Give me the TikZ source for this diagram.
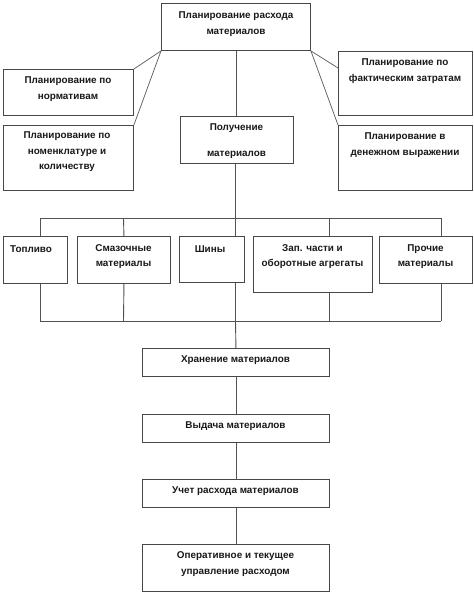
\documentclass[tikz,border=0pt]{standalone}
\usepackage{fontspec}
\setmainfont{Liberation Sans}
\begin{document}
\begin{tikzpicture}[x=1pt,y=-1pt,
  box/.style={draw=black!72, line width=0.9pt, rectangle, inner sep=0pt, anchor=north west},
  txt/.style={align=center, inner sep=0pt, font=\fontsize{9.9}{15.5}\selectfont\bfseries, text=black!90},
  ln/.style={draw=black!68, line width=0.9pt},
  diag/.style={draw=black!62, line width=0.75pt}]
\useasboundingbox[fill=white] (0,0) rectangle (474,595);
% top
\node[box, minimum width=149pt, minimum height=47pt] (top) at (161,3) {};
\node[txt] (topT) at (236,24) {Планирование расхода\\материалов};
% left
\node[box, minimum width=130pt, minimum height=46pt] (l1) at (3,69) {};
\node[txt] (l1T) at (68,89) {Планирование по\\нормативам};
\node[box, minimum width=130pt, minimum height=65pt] (l2) at (3,125) {};
\node[txt] (l2T) at (67,152) {Планирование по\\номенклатуре и\\количеству};
% right
\node[box, minimum width=134pt, minimum height=64pt] (r1) at (338,51) {};
\node[txt] (r1T) at (405,71) {Планирование по\\фактическим затратам};
\node[box, minimum width=134pt, minimum height=65pt] (r2) at (338,125) {};
\node[txt] (r2T) at (405,145) {Планирование в\\денежном выражении};
% center
\node[box, minimum width=113pt, minimum height=47pt] (recv) at (180,116) {};
\node[txt, font=\fontsize{9.9}{26}\selectfont\bfseries] (recvT) at (236.5,141) {Получение\\материалов};
% row
\node[box, minimum width=64pt, minimum height=47pt] (fuel) at (3,236) {};
\node[txt] (fuelT) at (31,249) {Топливо};
\node[box, minimum width=93pt, minimum height=47pt] (lub) at (77,236) {};
\node[txt] (lubT) at (123.5,256.5) {Смазочные\\материалы};
\node[box, minimum width=65pt, minimum height=46pt] (tyre) at (179,236) {};
\node[txt] (tyreT) at (210,249) {Шины};
\node[box, minimum width=119pt, minimum height=56pt] (spare) at (253,236) {};
\node[txt] (spareT) at (312.5,256.5) {Зап. части и\\оборотные агрегаты};
\node[box, minimum width=93pt, minimum height=47pt] (other) at (379,236) {};
\node[txt] (otherT) at (425.5,256.5) {Прочие\\материалы};
% bottom chain
\node[box, minimum width=187pt, minimum height=28pt] (store) at (142,348) {};
\node[txt] (storeT) at (235.5,360) {Хранение материалов};
\node[box, minimum width=187pt, minimum height=28pt] (issue) at (142,414) {};
\node[txt] (issueT) at (235.5,426) {Выдача материалов};
\node[box, minimum width=187pt, minimum height=28pt] (acct) at (142,479) {};
\node[txt] (acctT) at (235.5,491) {Учет расхода материалов};
\node[box, minimum width=187pt, minimum height=47pt] (ops) at (142,544) {};
\node[txt] (opsT) at (235.5,564) {Оперативное и текущее\\управление расходом};
% bus coordinates
\coordinate (b1) at (40,218);
\coordinate (b2) at (123.5,218);
\coordinate (b3) at (235.5,218);
\coordinate (b4) at (329,218);
\coordinate (b5) at (441,218);
\coordinate (c1) at (40,321);
\coordinate (c2) at (123.5,321);
\coordinate (c3) at (235.5,321);
\coordinate (c4) at (329,321);
\coordinate (c5) at (441,321);
% connectors
\draw[ln] (top.south) -- (top.south |- recv.north);
\draw[diag] (top.south west) -- (l1.north east);
\draw[diag] (top.south west) -- (l2.north east);
\draw[diag] (top.south east) -- ([yshift=-17pt]r1.north west);
\draw[diag] (top.south east) -- (r2.north west);
\draw[ln] (b3 |- recv.south) -- (b3);
\draw[ln] (b1) -- (b5);
\draw[ln] (b1) -- (b1 |- fuel.north);
\draw[ln] (b2) -- (lub.north);
\draw[ln] (b3) -- (b3 |- tyre.north);
\draw[ln] (b4) -- (b4 |- spare.north);
\draw[ln] (b5) -- (b5 |- other.north);
\draw[ln] (b1 |- fuel.south) -- (c1);
\draw[ln] (lub.south) -- (c2);
\draw[ln] (b3 |- tyre.south) -- (c3);
\draw[ln] (b4 |- spare.south) -- (c4);
\draw[ln] (b5 |- other.south) -- (c5);
\draw[ln] (c1) -- (c5);
\draw[ln] (c3) -- (store.north);
\draw[ln] (store.south) -- (issue.north);
\draw[ln] (issue.south) -- (acct.north);
\draw[ln] (acct.south) -- (ops.north);
\end{tikzpicture}
\end{document}
